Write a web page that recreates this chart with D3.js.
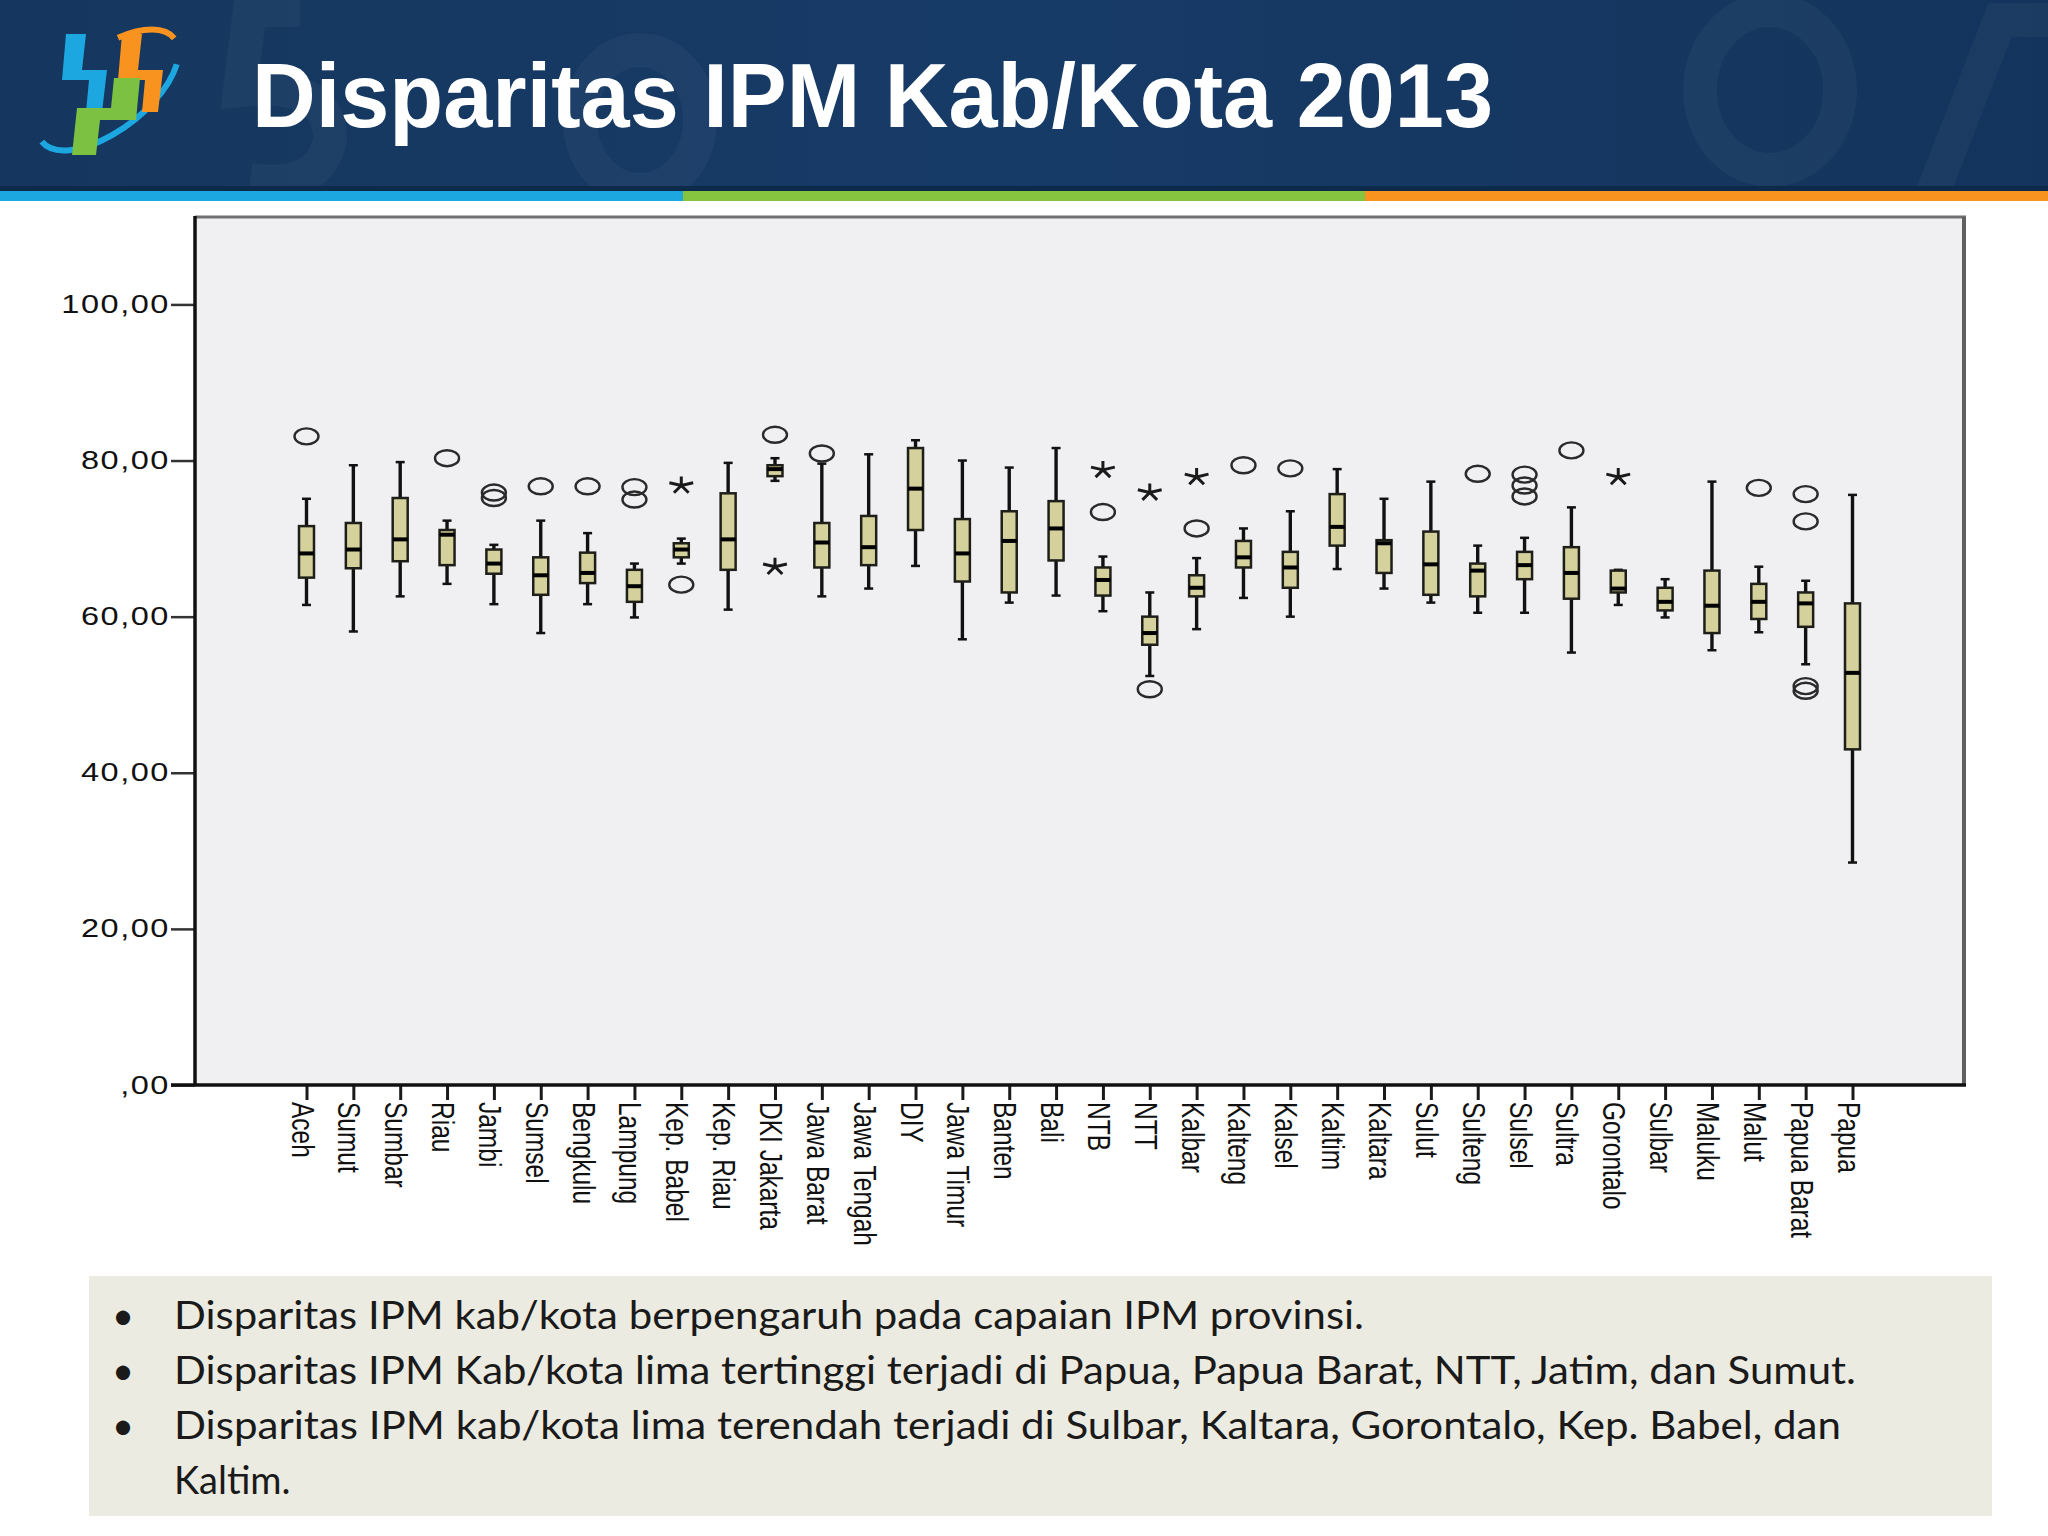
<!DOCTYPE html>
<html>
<head>
<meta charset="utf-8">
<script src="https://cdn.jsdelivr.net/npm/d3@7"></script>
<style>
  html, body { margin: 0; padding: 0; background: #fff; }
  svg { display: block; }
</style>
</head>
<body>
<svg id="slide" width="2048" height="1536"></svg>
<script>
// values (IPM per kab/kota, 2013)
var provinces = ["Aceh", "Sumut", "Sumbar", "Riau", "Jambi", "Sumsel", "Bengkulu", "Lampung",
  "Kep. Babel", "Kep. Riau", "DKI Jakarta", "Jawa Barat", "Jawa Tengah", "DIY", "Jawa Timur",
  "Banten", "Bali", "NTB", "NTT", "Kalbar", "Kalteng", "Kalsel", "Kaltim", "Kaltara", "Sulut",
  "Sulteng", "Sulsel", "Sultra", "Gorontalo", "Sulbar", "Maluku", "Malut", "Papua Barat", "Papua"];

var whiskerLow  = [61.5, 58.1, 62.6, 64.2, 61.6, 57.9, 61.6, 59.9, 66.8, 60.9, 77.4, 62.6, 63.6, 66.5, 57.1,
  61.8, 62.7, 60.7, 52.4, 58.4, 62.4, 60.0, 66.1, 63.6, 61.8, 60.5, 60.5, 55.4, 61.5, 59.9, 55.7, 58.0, 53.9, 28.5];
var q1          = [65.0, 66.2, 67.1, 66.6, 65.5, 62.8, 64.3, 61.9, 67.6, 66.0, 78.0, 66.3, 66.6, 71.1, 64.5,
  63.1, 67.2, 62.7, 56.4, 62.6, 66.3, 63.7, 69.1, 65.6, 62.8, 62.6, 64.8, 62.3, 63.1, 60.8, 57.9, 59.7, 58.7, 43.0];
var median      = [68.1, 68.6, 69.9, 70.5, 66.8, 65.3, 65.6, 63.9, 68.6, 69.9, 78.9, 69.5, 68.9, 76.4, 68.1,
  69.7, 71.3, 64.7, 57.9, 63.7, 67.6, 66.3, 71.5, 69.4, 66.7, 65.9, 66.6, 65.6, 63.6, 61.9, 61.4, 61.9, 61.7, 52.8];
var q3          = [71.6, 72.0, 75.2, 71.1, 68.6, 67.6, 68.2, 66.0, 69.4, 75.8, 79.4, 72.0, 72.9, 81.6, 72.5,
  73.5, 74.8, 66.3, 60.0, 65.3, 69.7, 68.3, 75.7, 69.8, 70.9, 66.8, 68.3, 68.9, 65.9, 63.7, 65.9, 64.2, 63.1, 61.7];
var whiskerHigh = [75.1, 79.4, 79.8, 72.3, 69.2, 72.3, 70.7, 66.8, 70.0, 79.7, 80.3, 79.6, 80.8, 82.6, 80.0,
  79.1, 81.6, 67.7, 63.1, 67.5, 71.3, 73.5, 78.9, 75.1, 77.3, 69.1, 70.1, 74.0, 66.0, 64.8, 77.3, 66.4, 64.6, 75.6];

// outliers drawn as "o"
var outliers = [["Aceh", 83.1], ["Riau", 80.3], ["Jambi", 75.9], ["Jambi", 75.2], ["Sumsel", 76.7],
  ["Bengkulu", 76.7], ["Lampung", 76.6], ["Lampung", 75.0], ["Kep. Babel", 64.1], ["DKI Jakarta", 83.3],
  ["Jawa Barat", 80.9], ["NTB", 73.4], ["NTT", 50.7], ["Kalbar", 71.3], ["Kalteng", 79.4], ["Kalsel", 79.0],
  ["Sulteng", 78.3], ["Sulsel", 78.2], ["Sulsel", 76.8], ["Sulsel", 75.4], ["Sultra", 81.3], ["Malut", 76.5],
  ["Papua Barat", 75.7], ["Papua Barat", 72.2], ["Papua Barat", 51.1], ["Papua Barat", 50.5]];
// extremes drawn as "*"
var extremes = [["Kep. Babel", 76.8], ["DKI Jakarta", 66.4], ["NTB", 78.8], ["NTT", 75.9],
  ["Kalbar", 77.9], ["Gorontalo", 77.9]];

var yTicks = [0, 20, 40, 60, 80, 100];

var title = "Disparitas IPM Kab/Kota 2013";
var bulletLines = [
  ["Disparitas IPM kab/kota berpengaruh pada capaian IPM provinsi.", true],
  ["Disparitas IPM Kab/kota lima tertinggi terjadi di Papua, Papua Barat, NTT, Jatim, dan Sumut.", true],
  ["Disparitas IPM kab/kota lima terendah terjadi di Sulbar, Kaltara, Gorontalo, Kep. Babel, dan", true],
  ["Kaltim.", false]
];

var svg = d3.select("#slide");

// ---------- header banner ----------
var defs = svg.append("defs");
var grad = defs.append("linearGradient").attr("id", "navy").attr("x1", 0).attr("x2", 1);
grad.append("stop").attr("offset", 0).attr("stop-color", "#15375f");
grad.append("stop").attr("offset", 0.5).attr("stop-color", "#173b67");
grad.append("stop").attr("offset", 1).attr("stop-color", "#13345c");

svg.append("rect").attr("width", 2048).attr("height", 190).attr("fill", "url(#navy)");

// faint texture blobs in the banner
var tex = svg.append("g").attr("fill", "none").attr("stroke", "#ffffff").attr("stroke-opacity", 0.035)
  .attr("stroke-width", 34);
tex.append("ellipse").attr("cx", 1770).attr("cy", 90).attr("rx", 70).attr("ry", 80);
tex.append("ellipse").attr("cx", 640).attr("cy", 120).attr("rx", 60).attr("ry", 70);
tex.append("path").attr("d", "M1930,200 L2000,20 L2048,20");
tex.append("path").attr("d", "M300,10 L250,10 L240,90 Q330,80 330,140 Q320,190 250,180");

svg.append("rect").attr("y", 186).attr("width", 2048).attr("height", 5).attr("fill", "#0e2a4a");
svg.append("rect").attr("x", 0).attr("y", 191).attr("width", 683).attr("height", 10).attr("fill", "#1ca7e1");
svg.append("rect").attr("x", 683).attr("y", 191).attr("width", 682).attr("height", 10).attr("fill", "#86c440");
svg.append("rect").attr("x", 1365).attr("y", 191).attr("width", 683).attr("height", 10).attr("fill", "#f7931e");

// logo
var logo = svg.append("g");
var orbit = logo.append("g").attr("transform", "translate(108,90) rotate(-38)");
orbit.append("path").attr("d", "M -84 0 A 84 40 0 0 0 70 22")
  .attr("fill", "none").attr("stroke", "#1ca7e1").attr("stroke-width", 6);
orbit.append("path").attr("d", "M 40 -35 A 84 40 0 0 1 84 0")
  .attr("fill", "none").attr("stroke", "#f7931e").attr("stroke-width", 6);
logo.append("polygon").attr("fill", "#1ca7e1")
  .attr("points", "66,34 86,34 82,70 107,70 102,112 86,112 89,80 62,80");
logo.append("polygon").attr("fill", "#f7931e")
  .attr("points", "122,34 142,34 138,70 163,70 158,112 142,112 145,80 118,80");
logo.append("polygon").attr("fill", "#7dc142")
  .attr("points", "114,78 140,78 136,120 100,120 96,155 72,155 77,108 111,108");

svg.append("text")
  .attr("x", 252).attr("y", 127)
  .attr("font-family", "Liberation Sans, Arial, sans-serif")
  .attr("font-weight", 700).attr("font-size", 90)
  .attr("fill", "#ffffff")
  .attr("textLength", 1241).attr("lengthAdjust", "spacingAndGlyphs")
  .text(title);

// ---------- chart ----------
var plotLeft = 195, plotRight = 1964, plotTop = 217, plotBottom = 1085;

var x = d3.scalePoint().domain(provinces).range([plotLeft, plotRight]).padding(2.38);
var y = d3.scaleLinear().domain([0, 111.2]).range([plotBottom, plotTop]);

svg.append("rect")
  .attr("x", plotLeft).attr("y", plotTop).attr("width", plotRight - plotLeft).attr("height", plotBottom - plotTop)
  .attr("fill", "#f0eff2");

// frame: grey top/right, black left/bottom
svg.append("line").attr("x1", plotLeft).attr("x2", plotRight + 2).attr("y1", plotTop).attr("y2", plotTop)
  .attr("stroke", "#707070").attr("stroke-width", 3);
svg.append("line").attr("x1", plotRight).attr("x2", plotRight).attr("y1", plotTop).attr("y2", plotBottom)
  .attr("stroke", "#606060").attr("stroke-width", 4);

var fmt = function(d) { return d3.format(".2f")(d).replace(".", ",").replace(/^0,/, ","); };

var yAxis = svg.append("g")
  .attr("transform", "translate(" + plotLeft + ",0)")
  .call(d3.axisLeft(y).tickValues(yTicks).tickSize(24).tickFormat(fmt));
yAxis.select(".domain").remove();
yAxis.selectAll(".tick line").attr("stroke", "#333").attr("stroke-width", 2.5);
yAxis.selectAll(".tick text")
  .attr("x", 0)
  .attr("transform", "translate(-25,0) scale(1.3,1)")
  .attr("font-family", "Liberation Sans, Arial, sans-serif")
  .attr("font-size", 25)
  .attr("letter-spacing", 1.2)
  .attr("fill", "#111");

var xAxis = svg.append("g")
  .attr("transform", "translate(0," + plotBottom + ")")
  .call(d3.axisBottom(x).tickSize(15).tickFormat(function(d) { return d; }));
xAxis.select(".domain").remove();
xAxis.selectAll(".tick line").attr("stroke", "#1a1a1a").attr("stroke-width", 3);
xAxis.selectAll(".tick text")
  .attr("x", 0).attr("y", 0).attr("dy", "0.36em")
  .attr("text-anchor", "start")
  .attr("transform", "translate(-4,17) rotate(90) scale(1,1.3)")
  .attr("font-family", "Liberation Sans, Arial, sans-serif")
  .attr("font-size", 24.5)
  .attr("fill", "#111");

svg.append("line").attr("x1", plotLeft).attr("x2", plotLeft).attr("y1", plotTop - 1).attr("y2", plotBottom + 1)
  .attr("stroke", "#111").attr("stroke-width", 3.5);
svg.append("line").attr("x1", plotLeft - 24).attr("x2", plotRight + 2).attr("y1", plotBottom).attr("y2", plotBottom)
  .attr("stroke", "#111").attr("stroke-width", 3.5);

// boxes
var rows = provinces.map(function(p, i) {
  return { name: p, lo: whiskerLow[i], q1: q1[i], med: median[i], q3: q3[i], hi: whiskerHigh[i] };
});
var boxW = 15, capW = 9;

var box = svg.append("g").selectAll("g").data(rows).join("g")
  .attr("transform", function(d) { return "translate(" + x(d.name) + ",0)"; });

box.append("line")
  .attr("y1", function(d) { return y(d.hi); }).attr("y2", function(d) { return y(d.lo); })
  .attr("stroke", "#111").attr("stroke-width", 3.4);
box.append("line").attr("x1", -capW / 2).attr("x2", capW / 2)
  .attr("y1", function(d) { return y(d.hi); }).attr("y2", function(d) { return y(d.hi); })
  .attr("stroke", "#111").attr("stroke-width", 2.5);
box.append("line").attr("x1", -capW / 2).attr("x2", capW / 2)
  .attr("y1", function(d) { return y(d.lo); }).attr("y2", function(d) { return y(d.lo); })
  .attr("stroke", "#111").attr("stroke-width", 2.5);
box.append("rect")
  .attr("x", -boxW / 2).attr("width", boxW)
  .attr("y", function(d) { return y(d.q3); })
  .attr("height", function(d) { return y(d.q1) - y(d.q3); })
  .attr("fill", "#d5d19c").attr("stroke", "#1f1f1a").attr("stroke-width", 2.5);
box.append("line").attr("x1", -boxW / 2).attr("x2", boxW / 2)
  .attr("y1", function(d) { return y(d.med); }).attr("y2", function(d) { return y(d.med); })
  .attr("stroke", "#000").attr("stroke-width", 4);

// outliers
svg.append("g").selectAll("ellipse").data(outliers).join("ellipse")
  .attr("cx", function(d) { return x(d[0]); })
  .attr("cy", function(d) { return y(d[1]); })
  .attr("rx", 12).attr("ry", 8)
  .attr("fill", "none").attr("stroke", "#2a2a2a").attr("stroke-width", 2.4);

// extremes: five-armed asterisk, stretched like the rest of the slide
var starPath = d3.range(5).map(function(k) {
  var a = -Math.PI / 2 + k * 2 * Math.PI / 5;
  return "M0,0L" + (Math.cos(a) * 10 * 1.25).toFixed(2) + "," + (Math.sin(a) * 9).toFixed(2);
}).join("");
svg.append("g").selectAll("path").data(extremes).join("path")
  .attr("transform", function(d) { return "translate(" + x(d[0]) + "," + y(d[1]) + ")"; })
  .attr("d", starPath)
  .attr("fill", "none").attr("stroke", "#1a1a1a").attr("stroke-width", 3);

// ---------- bullet box ----------
svg.append("rect").attr("x", 89).attr("y", 1276).attr("width", 1903).attr("height", 240)
  .attr("fill", "#ecebe1");

var lineW = [1190, 1682, 1667, null];
var bl = svg.append("g")
  .attr("font-family", "Lato, 'Open Sans', sans-serif")
  .attr("font-size", 38).attr("fill", "#1a1a1a");
bulletLines.forEach(function(l, i) {
  var by = 1329 + i * 55;
  if (l[1]) bl.append("text").attr("x", 112).attr("y", by).text("\u2022");
  var t = bl.append("text").attr("x", 174).attr("y", by).text(l[0]);
  if (lineW[i]) t.attr("textLength", lineW[i]).attr("lengthAdjust", "spacingAndGlyphs");
});
</script>
</body>
</html>
